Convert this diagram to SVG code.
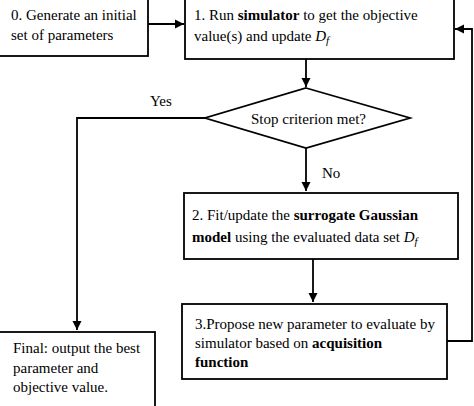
<svg xmlns="http://www.w3.org/2000/svg" width="474" height="406" viewBox="0 0 474 406">
<defs>
<marker id="ah" viewBox="0 0 10 10" refX="10" refY="5" markerWidth="9" markerHeight="10" markerUnits="userSpaceOnUse" orient="auto">
<path d="M0,0 L10,5 L0,10 Z" fill="#000"/>
</marker>
</defs>
<style>
.box{fill:#fff;stroke:#000;stroke-width:1.8}
.t{font-family:"Liberation Serif","Times New Roman",serif;font-size:15px;fill:#000}
.b{font-weight:bold}
.i{font-style:italic}
.ln{fill:none;stroke:#000;stroke-width:1.8}
</style>
<rect width="474" height="406" fill="#fff"/>
<g id="connectors">
<path class="ln" d="M148,24 L184,24" marker-end="url(#ah)"/>
<path class="ln" d="M306,59 L306,87" marker-end="url(#ah)"/>
<path class="ln" d="M306,148 L306,191" marker-end="url(#ah)"/>
<path class="ln" d="M313,259 L313,302" marker-end="url(#ah)"/>
<path class="ln" d="M205,118 L77,118 L77,330" marker-end="url(#ah)"/>
<path class="ln" d="M447,341 L472,341 L472,29 L455,29" marker-end="url(#ah)"/>
<text class="t" x="150" y="106">Yes</text>
<text class="t" x="322" y="178">No</text>
</g>
<g id="node0">
<rect class="box" x="-5" y="-5" width="153" height="61"/>
<text class="t" x="11" y="20">0. Generate an initial</text>
<text class="t" x="11" y="40">set of parameters</text>
</g>
<g id="node1">
<rect class="box" x="185" y="-5" width="269" height="64"/>
<text class="t" x="194" y="20">1. Run <tspan class="b">simulator</tspan> to get the objective</text>
<text class="t" x="194" y="41">value(s) and update <tspan class="i">D<tspan class="i" font-size="11" dy="3">f</tspan></tspan></text>
</g>
<g id="decision">
<polygon class="box" points="306,88 410,118 306,148 205,118"/>
<text class="t" x="251" y="124">Stop criterion met?</text>
</g>
<g id="node2">
<rect class="box" x="184" y="193" width="274" height="66"/>
<text class="t" x="192" y="220">2. Fit/update the <tspan class="b">surrogate Gaussian</tspan></text>
<text class="t" x="192" y="242"><tspan class="b">model</tspan> using the evaluated data set <tspan class="i">D<tspan class="i" font-size="11" dy="3">f</tspan></tspan></text>
</g>
<g id="node3">
<rect class="box" x="182" y="304" width="265" height="75"/>
<text class="t" x="195" y="329">3.Propose new parameter to evaluate by</text>
<text class="t" x="195" y="348">simulator based on <tspan class="b">acquisition</tspan></text>
<text class="t" x="195" y="367" font-weight="bold">function</text>
</g>
<g id="final">
<rect class="box" x="-5" y="332" width="160" height="85"/>
<text class="t" x="13" y="353">Final: output the best</text>
<text class="t" x="13" y="373">parameter and</text>
<text class="t" x="13" y="392">objective value.</text>
</g>
</svg>
